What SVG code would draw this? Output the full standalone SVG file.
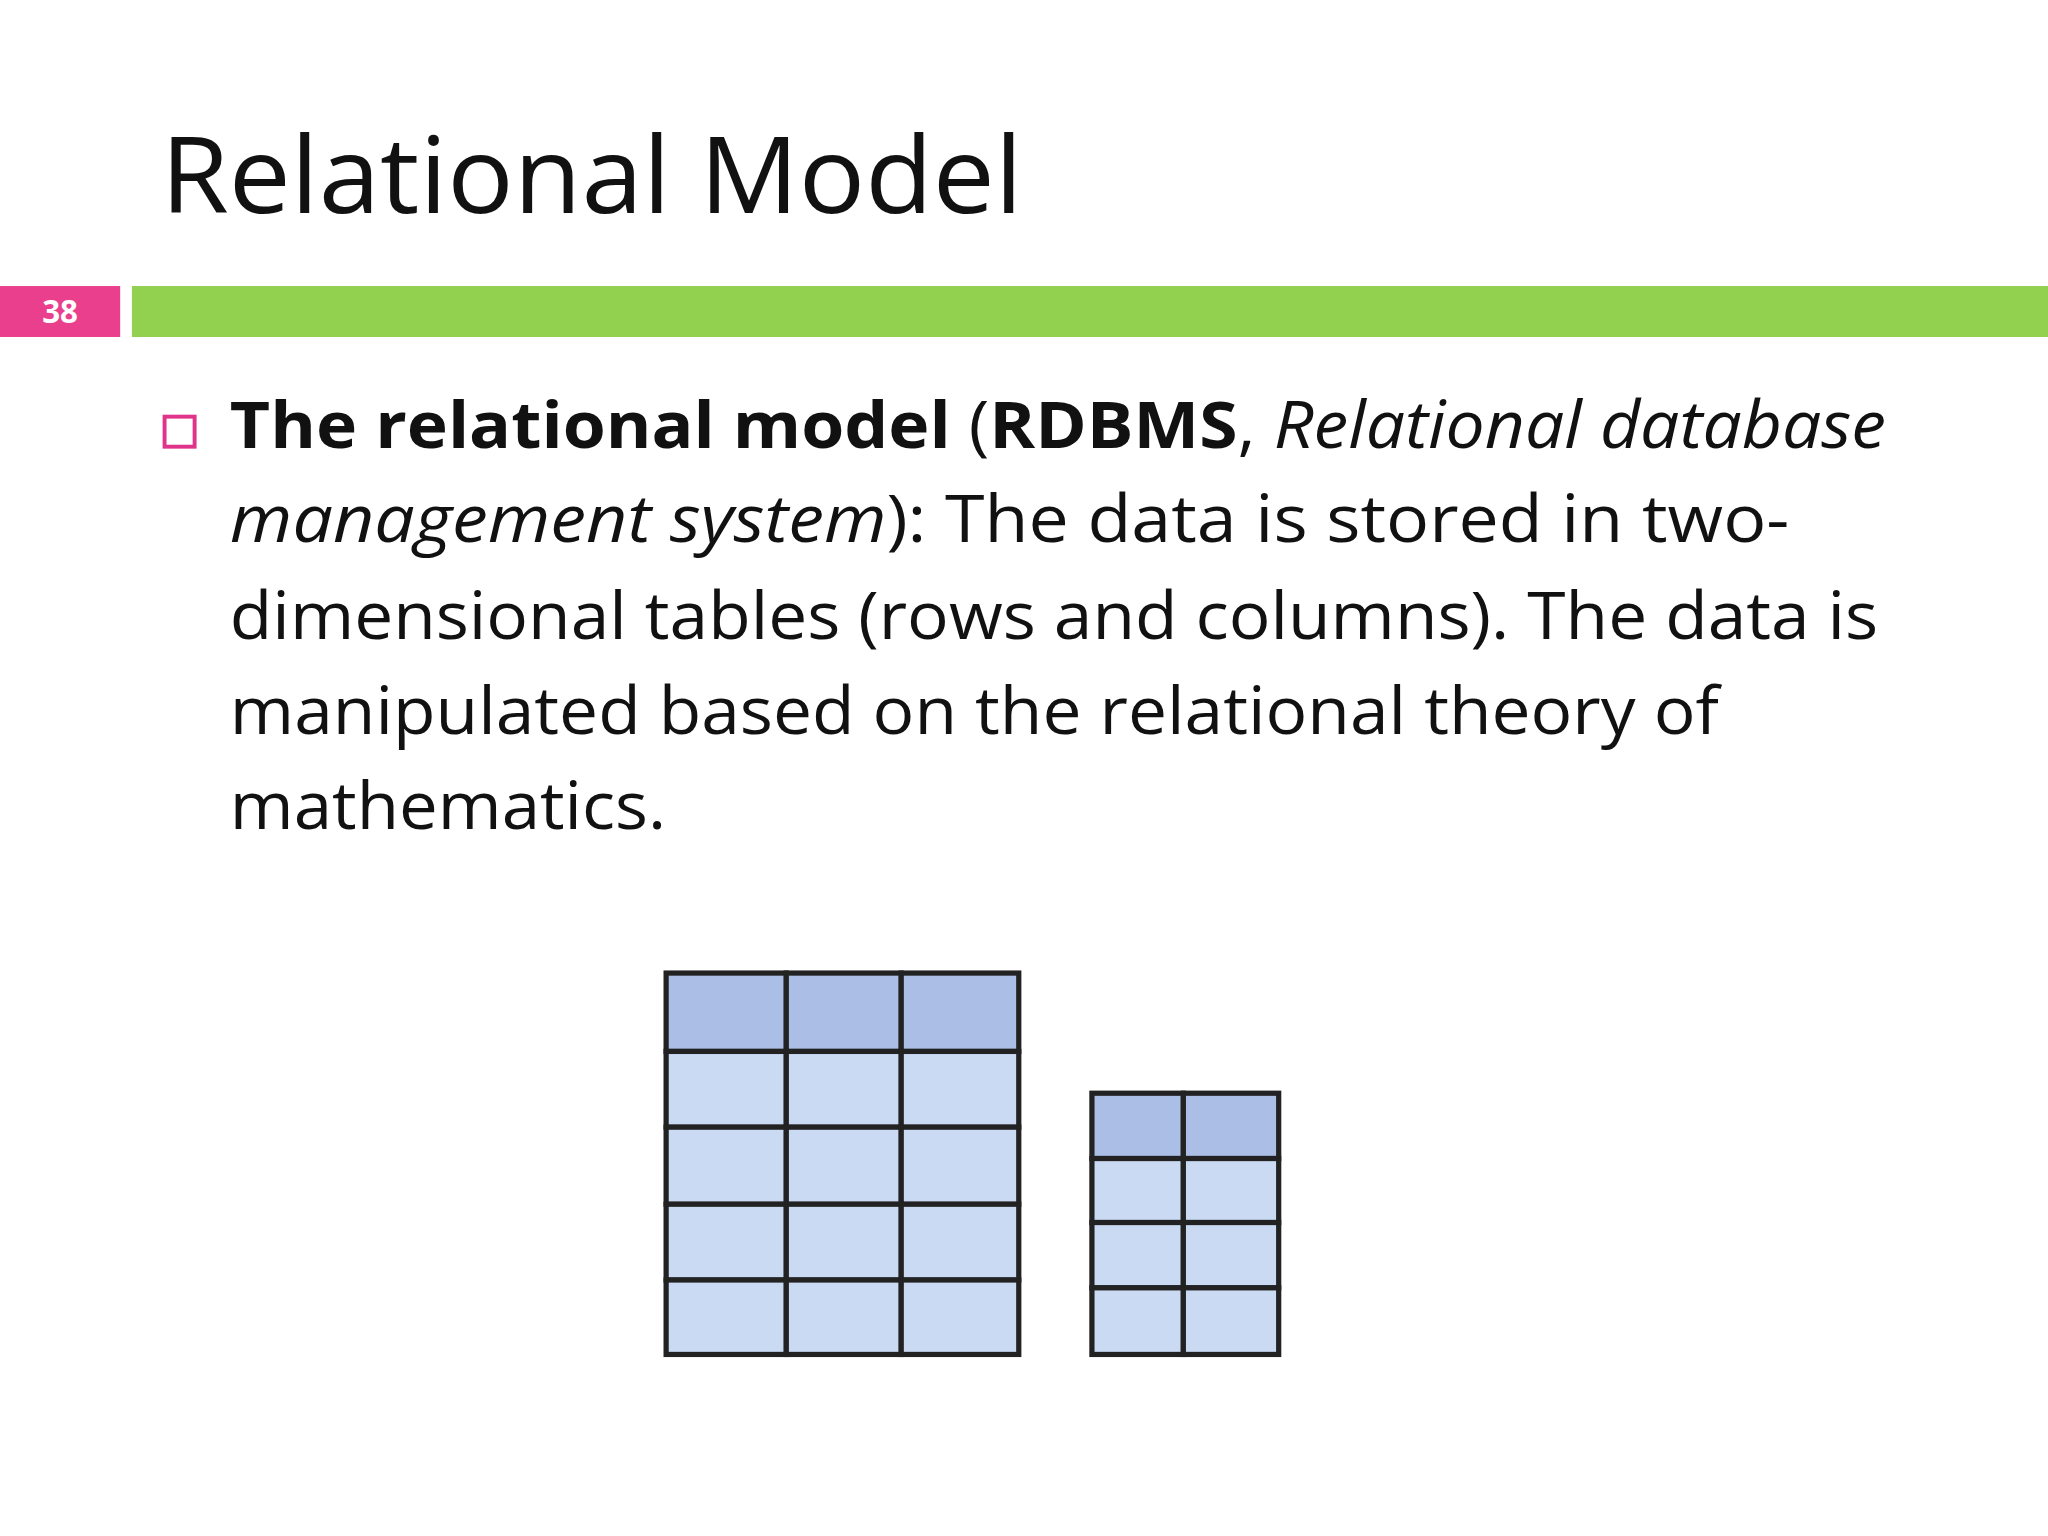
<svg xmlns="http://www.w3.org/2000/svg" width="2048" height="1536" viewBox="0 0 2048 1536">
<style>
.t{font-family:"Open Sans","Noto Sans",sans-serif;fill:#111}
.b{font-weight:bold}
.i{font-style:italic}
.hd{fill:#abbee6;stroke:#222;stroke-width:4}
.c{fill:#cbdaf3;stroke:#222;stroke-width:4}
</style>
<rect width="2048" height="1536" fill="#fff"/>
<g transform="scale(1.30612)">
<g id="title"><text class="t" x="123" y="163" font-size="82" textLength="660" lengthAdjust="spacingAndGlyphs">Relational Model</text></g>
<g id="header-bar">
<rect x="0" y="219" width="92" height="39" fill="#ea3f8c"/>
<text x="46" y="247" font-family="Open Sans, sans-serif" font-weight="bold" font-size="24" fill="#fff" text-anchor="middle">38</text>
<rect x="101" y="219" width="1467" height="39" fill="#92d050"/>
</g>
<g id="bullet">
<rect x="126" y="319" width="23" height="23" fill="none" stroke="#e0338a" stroke-width="3"/>
<text class="t" font-size="50" x="176" y="343" textLength="1268" lengthAdjust="spacingAndGlyphs"><tspan class="b">The relational model</tspan> (<tspan class="b">RDBMS</tspan>, <tspan class="i">Relational database</tspan></text>
<text class="t" font-size="50" x="176" y="415" textLength="1194" lengthAdjust="spacingAndGlyphs"><tspan class="i">management system</tspan>): The data is stored in two-</text>
<text class="t" font-size="50" x="176" y="489" textLength="1262" lengthAdjust="spacingAndGlyphs">dimensional tables (rows and columns). The data is</text>
<text class="t" font-size="50" x="176" y="562" textLength="1140" lengthAdjust="spacingAndGlyphs">manipulated based on the relational theory of</text>
<text class="t" font-size="50" x="176" y="635" textLength="334" lengthAdjust="spacingAndGlyphs">mathematics.</text>
</g>
<g id="table-large">
<rect class="hd" x="510" y="745" width="92" height="60"/><rect class="hd" x="602" y="745" width="88" height="60"/><rect class="hd" x="690" y="745" width="90" height="60"/>
<rect class="c" x="510" y="805" width="92" height="58"/><rect class="c" x="602" y="805" width="88" height="58"/><rect class="c" x="690" y="805" width="90" height="58"/>
<rect class="c" x="510" y="863" width="92" height="59"/><rect class="c" x="602" y="863" width="88" height="59"/><rect class="c" x="690" y="863" width="90" height="59"/>
<rect class="c" x="510" y="922" width="92" height="58"/><rect class="c" x="602" y="922" width="88" height="58"/><rect class="c" x="690" y="922" width="90" height="58"/>
<rect class="c" x="510" y="980" width="92" height="57"/><rect class="c" x="602" y="980" width="88" height="57"/><rect class="c" x="690" y="980" width="90" height="57"/>
</g>
<g id="table-small">
<rect class="hd" x="836" y="837" width="70" height="50"/><rect class="hd" x="906" y="837" width="73" height="50"/>
<rect class="c" x="836" y="887" width="70" height="49"/><rect class="c" x="906" y="887" width="73" height="49"/>
<rect class="c" x="836" y="936" width="70" height="50"/><rect class="c" x="906" y="936" width="73" height="50"/>
<rect class="c" x="836" y="986" width="70" height="51"/><rect class="c" x="906" y="986" width="73" height="51"/>
</g>
<g id="connectors"/>
</g>
</svg>
